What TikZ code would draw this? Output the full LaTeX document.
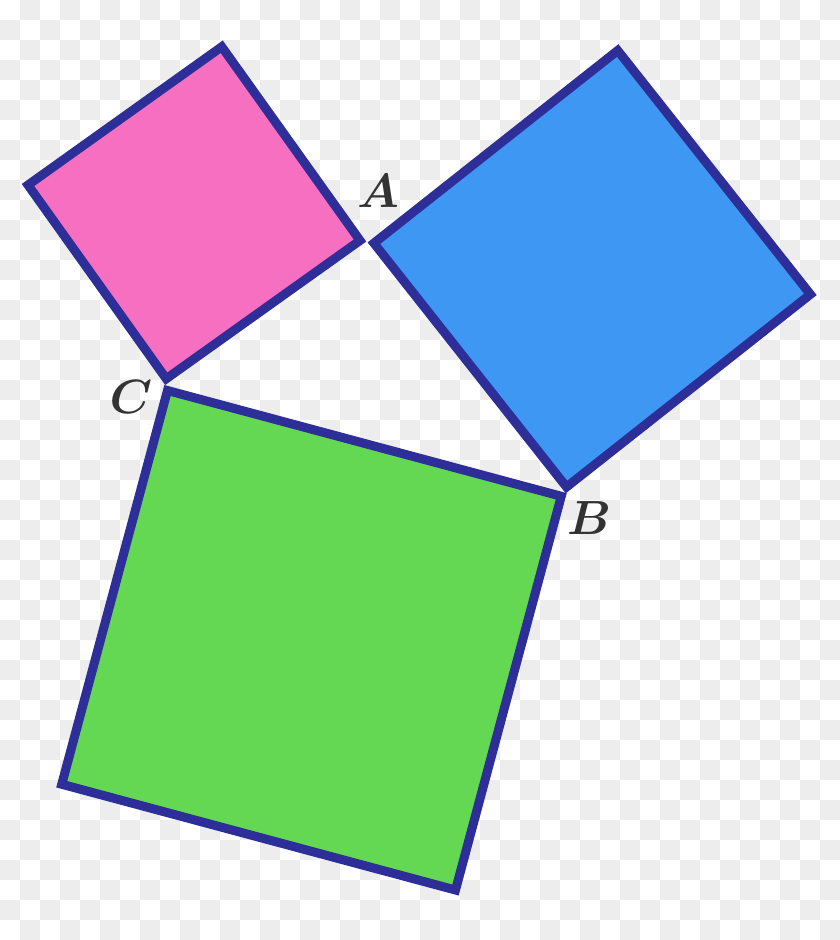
\documentclass[tikz,border=0pt]{standalone}
\definecolor{chk}{HTML}{EDEDED}
\definecolor{edgec}{HTML}{2E2E98}
\definecolor{pinkc}{HTML}{F76FC0}
\definecolor{bluec}{HTML}{3D97F3}
\definecolor{greenc}{HTML}{64D852}
\definecolor{lblc}{HTML}{333333}
\begin{document}
\begin{tikzpicture}[x=1pt,y=-1pt,
  sq/.style={draw=edgec,line width=9pt,line join=miter},
  lbl/.style={text=lblc,scale=4.8,inner sep=0pt,font=\boldmath}]
\useasboundingbox (0,0) rectangle (840,940);
\fill[white] (0,0) rectangle (840,940);
\foreach \j in {0,...,46}{
  \pgfmathtruncatemacro\o{mod(\j+1,2)}
  \foreach \k in {0,...,20}{
    \fill[chk] ({20*(2*\k+\o)},{20*\j}) rectangle +(20,20);
  }
}
% pink square
\coordinate (p1) at (28,185);
\coordinate (p2) at (221.75,46.75);
\coordinate (p3) at (360,240.5);
\coordinate (p4) at (166.25,378.75);
% blue square
\coordinate (b1) at (373.9,243.15);
\coordinate (b2) at (617.7,50.5);
\coordinate (b3) at (810.4,294.35);
\coordinate (b4) at (566.5,487);
% green square
\coordinate (g1) at (167.5,390.5);
\coordinate (g2) at (561.25,496.25);
\coordinate (g3) at (455.5,890);
\coordinate (g4) at (61.75,784.25);
\draw[sq,fill=pinkc] (p1) -- (p2) -- (p3) -- (p4) -- cycle;
\draw[sq,fill=bluec] (b1) -- (b2) -- (b3) -- (b4) -- cycle;
\draw[sq,fill=greenc] (g1) -- (g2) -- (g3) -- (g4) -- cycle;
\node[lbl] (la) at (378,191) {$A$};
\node[lbl] (lc) at (131,397) {$C$};
\node[lbl] (lb) at (589,518) {$B$};
\end{tikzpicture}
\end{document}
